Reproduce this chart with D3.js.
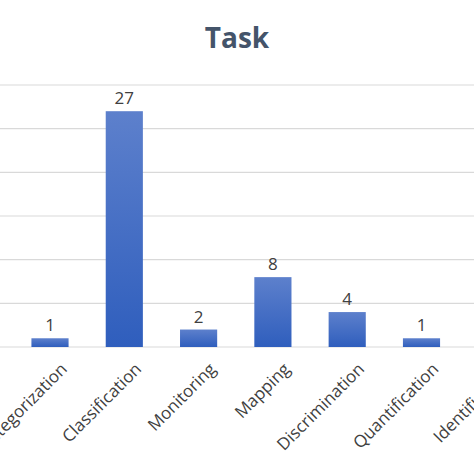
<!DOCTYPE html>
<html><head><meta charset="utf-8">
<script src="https://cdn.jsdelivr.net/npm/d3@7"></script>
<style>body{margin:0;background:#fff}</style></head>
<body><svg width="474" height="474"></svg>
<script>
const categories = ['Categorization', 'Classification', 'Monitoring', 'Mapping', 'Discrimination', 'Quantification', 'Identification'];
const values = [1, 27, 2, 8, 4, 1, 1];
const yTicks = [0, 5, 10, 15, 20, 25, 30];

const svg = d3.select('svg');
// step of 74.3 px per category, bars half a step wide
const x = d3.scaleBand().domain(categories).range([12.85, 12.85 + 7 * 74.3])
    .paddingInner(0.5).paddingOuter(0.25);
const y = d3.scaleLinear().domain([0, 30]).range([347, 85]);

const grad = svg.append('defs').append('linearGradient')
    .attr('id', 'g').attr('x1', 0).attr('y1', 0).attr('x2', 0).attr('y2', 1);
grad.append('stop').attr('offset', '0%').attr('stop-color', '#5d80cc');
grad.append('stop').attr('offset', '100%').attr('stop-color', '#2f5ebd');

// gridlines
svg.selectAll('.grid').data(yTicks).join('line')
    .attr('x1', 0).attr('x2', 474)
    .attr('y1', d => y(d)).attr('y2', d => y(d))
    .attr('stroke', '#d9d9d9').attr('stroke-width', 1.2);

svg.selectAll('.bar').data(values).join('rect')
    .attr('x', (d, i) => x(categories[i]))
    .attr('width', x.bandwidth())
    .attr('y', d => y(d))
    .attr('height', d => y(0) - y(d))
    .attr('fill', 'url(#g)');

svg.selectAll('.val').data(values).join('text')
    .attr('x', (d, i) => x(categories[i]) + x.bandwidth() / 2)
    .attr('y', d => y(d) - 7)
    .attr('text-anchor', 'middle')
    .attr('font-family', 'Open Sans, Liberation Sans, sans-serif')
    .attr('font-size', 17).attr('fill', '#404040')
    .text(d => d);

svg.selectAll('.cat').data(categories).join('text')
    .attr('transform', d => `translate(${x(d) + x.bandwidth() / 2 + 8},${360}) rotate(-45)`)
    .attr('text-anchor', 'end')
    .attr('dominant-baseline', 'hanging')
    .attr('font-family', 'Open Sans, Liberation Sans, sans-serif')
    .attr('font-size', 17).attr('fill', '#404040')
    .text(d => d);

svg.append('text')
    .attr('x', 237).attr('y', 48)
    .attr('text-anchor', 'middle')
    .attr('font-family', 'Open Sans, Liberation Sans, sans-serif')
    .attr('font-size', 28).attr('font-weight', 'bold').attr('fill', '#44546a')
    .text('Task');
</script></body></html>
